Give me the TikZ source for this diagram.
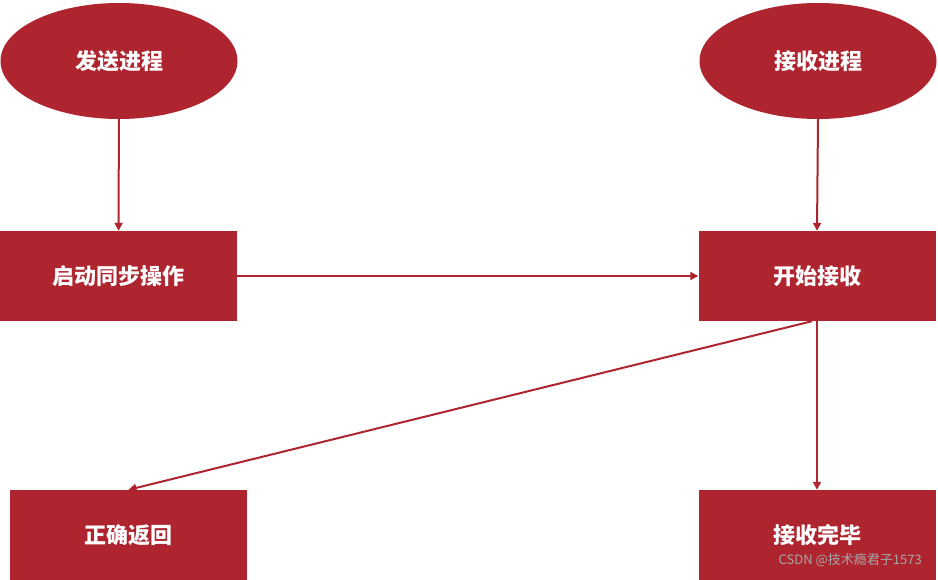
\documentclass[tikz,border=0pt]{standalone}
\usepackage{fontspec}
\newfontfamily\cjk{Noto Sans CJK SC}
\usetikzlibrary{shapes.geometric,arrows.meta}
\definecolor{dred}{HTML}{AE2530}
\tikzset{
  box/.style={fill=dred,minimum width=237pt,minimum height=90pt,inner sep=0pt,text=white,font=\cjk\bfseries\fontsize{22}{26}\selectfont},
  oval/.style={ellipse,fill=dred,minimum width=237pt,minimum height=116pt,inner sep=0pt,text=white,font=\cjk\bfseries\fontsize{22}{26}\selectfont},
  conn/.style={draw=dred,line width=2pt,-{Triangle[length=8pt,width=8pt]}}
}
\begin{document}
\begin{tikzpicture}[x=1pt,y=-1pt]
\useasboundingbox (0,0) rectangle (938,580);
\node[oval] (s) at (119,61) {发送进程};
\node[oval] (r) at (818,61) {接收进程};
\node[box] (a) at (118.5,276) {启动同步操作};
\node[box] (b) at (817,276) {开始接收};
\node[box] (c) at (128.5,535) {正确返回};
\node[box] (d) at (817,535) {接收完毕};
\draw[conn] (s) -- (a);
\draw[conn] (r.south) -- (b.north);
\draw[conn] (a) -- (b);
\draw[conn] (b.south) ++(-5,0) coordinate (bs) (bs) -- (c.north);
\draw[conn] (b) -- (d);
\node[anchor=east,text=gray!70,font=\cjk\fontsize{13}{15}\selectfont,inner sep=0pt] (w) at (922,560) {CSDN @技术瘾君子1573};
\end{tikzpicture}
\end{document}
